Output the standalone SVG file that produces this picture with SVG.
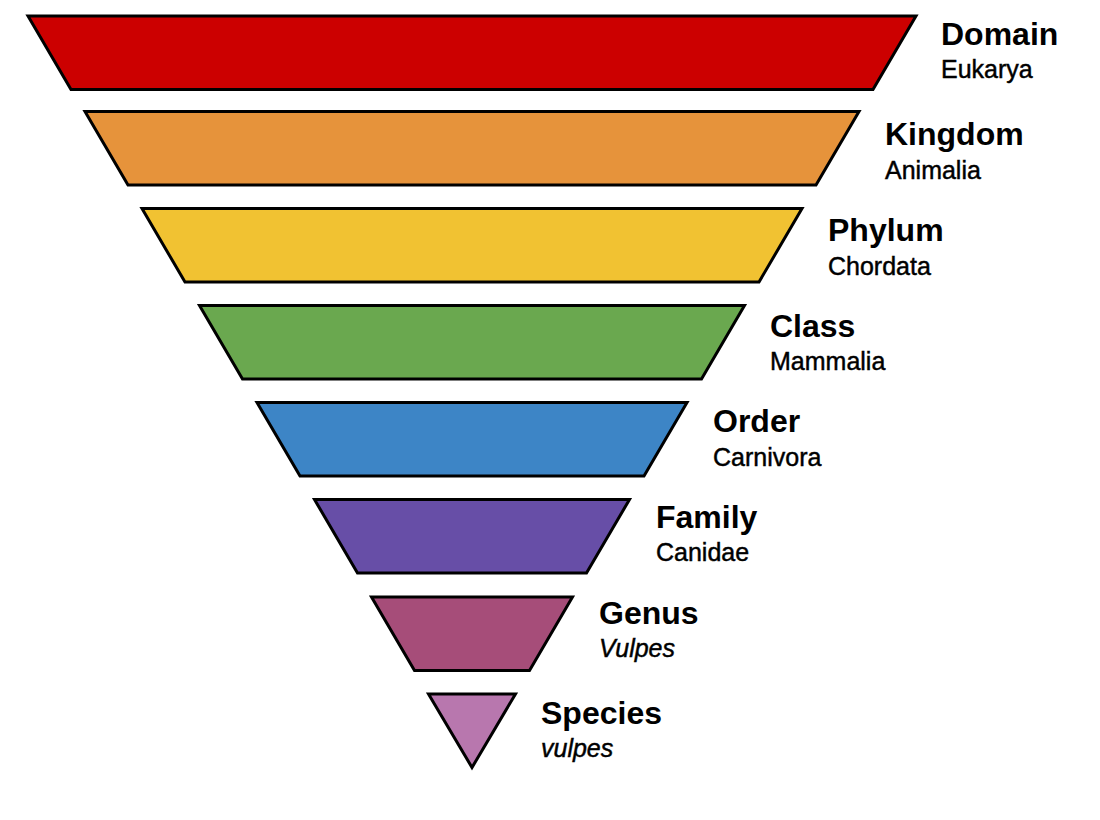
<svg xmlns="http://www.w3.org/2000/svg" width="1100" height="820" viewBox="0 0 1100 820">
<style>
.lv{stroke:#000;stroke-width:3;stroke-linejoin:miter}
.t{font-family:"Liberation Sans",Arial,sans-serif;font-weight:bold;font-size:32px;fill:#000}
.s{font-family:"Liberation Sans",Arial,sans-serif;font-size:25px;fill:#000;stroke:#000;stroke-width:0.45}
.i{font-style:italic}
</style>
<rect width="1100" height="820" fill="#fff"/>
<g id="domain">
<polygon class="lv" fill="#cc0000" points="28,16 916,16 873,89.5 71,89.5"/>
<text class="t" x="941" y="44.5">Domain</text>
<text class="s" x="941" y="78">Eukarya</text>
</g>
<g id="kingdom">
<polygon class="lv" fill="#e6933b" points="85,111.5 859,111.5 816,185 128,185"/>
<text class="t" x="885" y="145">Kingdom</text>
<text class="s" x="885" y="179">Animalia</text>
</g>
<g id="phylum">
<polygon class="lv" fill="#f1c232" points="142,208.5 802,208.5 759,282 185,282"/>
<text class="t" x="828" y="241">Phylum</text>
<text class="s" x="828" y="275">Chordata</text>
</g>
<g id="class">
<polygon class="lv" fill="#6aa84f" points="199.5,305.5 744.5,305.5 701.5,379 242.5,379"/>
<text class="t" x="770" y="337">Class</text>
<text class="s" x="770" y="370">Mammalia</text>
</g>
<g id="order">
<polygon class="lv" fill="#3d85c6" points="257,402.5 687,402.5 644,476 300,476"/>
<text class="t" x="713" y="432">Order</text>
<text class="s" x="713" y="466">Carnivora</text>
</g>
<g id="family">
<polygon class="lv" fill="#674ea7" points="314.5,499.5 629.5,499.5 586.5,573 357.5,573"/>
<text class="t" x="656" y="528">Family</text>
<text class="s" x="656" y="561">Canidae</text>
</g>
<g id="genus">
<polygon class="lv" fill="#a64d79" points="371.5,597 572.5,597 529.5,670.5 414.5,670.5"/>
<text class="t" x="599" y="624">Genus</text>
<text class="s i" x="599" y="657">Vulpes</text>
</g>
<g id="species">
<polygon class="lv" fill="#b877ae" points="428.5,694 515.5,694 472,767.5"/>
<text class="t" x="541" y="723.5">Species</text>
<text class="s i" x="541" y="757">vulpes</text>
</g>
<g id="connectors"></g>
</svg>
